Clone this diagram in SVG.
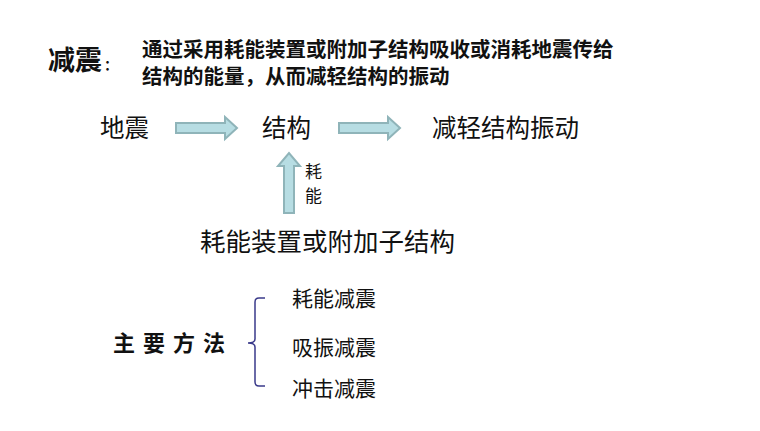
<svg xmlns="http://www.w3.org/2000/svg" width="760" height="431" viewBox="0 0 760 431">
<style>
text{font-family:"Liberation Sans","Noto Sans CJK SC",sans-serif;fill:#111}
.b{font-weight:bold}
.arr{fill:#b7dde3;stroke:#8fb4b9;stroke-width:2}
</style>
<rect width="760" height="431" fill="#fff"/>
<g id="title">
<text x="48" y="70" font-size="27" class="b" font-family="Noto Sans CJK SC">减震</text>
<text x="104" y="70" font-size="14" class="b">：</text>
<text x="142" y="57" font-size="20.5" class="b">通过采用耗能装置或附加子结构吸收或消耗地震传给</text>
<text x="142" y="84" font-size="20.5" class="b">结构的能量，从而减轻结构的振动</text>
</g>
<g id="n1"><text x="100" y="137" font-size="24.5">地震</text></g>
<g id="n2"><text x="262" y="137" font-size="24.5">结构</text></g>
<g id="n3"><text x="432" y="137" font-size="24.5">减轻结构振动</text></g>
<g id="n4"><text x="200" y="251" font-size="25.5">耗能装置或附加子结构</text></g>
<g id="connectors">
<path class="arr" d="M176,123 H225 V117 L237,128 L225,139 V133 H176 Z"/>
<path class="arr" d="M339,123 H388 V117 L400,128 L388,139 V133 H339 Z"/>
<path class="arr" d="M284,213 V166 H278 L289,153 L300,166 H294 V213 Z"/>
<text x="305" y="178" font-size="17">耗</text>
<text x="305" y="202" font-size="17">能</text>
<path d="M265,298 H259 Q255,298 255,302 V339 Q255,343 248,343 Q255,343 255,347 V382 Q255,386 259,386 H265" fill="none" stroke="#3a3a8a" stroke-width="1.5"/>
</g>
<g id="methods">
<text x="113" y="351" font-size="22" class="b" letter-spacing="8">主要方法</text>
<text x="292" y="306" font-size="21">耗能减震</text>
<text x="292" y="355" font-size="21">吸振减震</text>
<text x="292" y="396" font-size="21">冲击减震</text>
</g>
</svg>
